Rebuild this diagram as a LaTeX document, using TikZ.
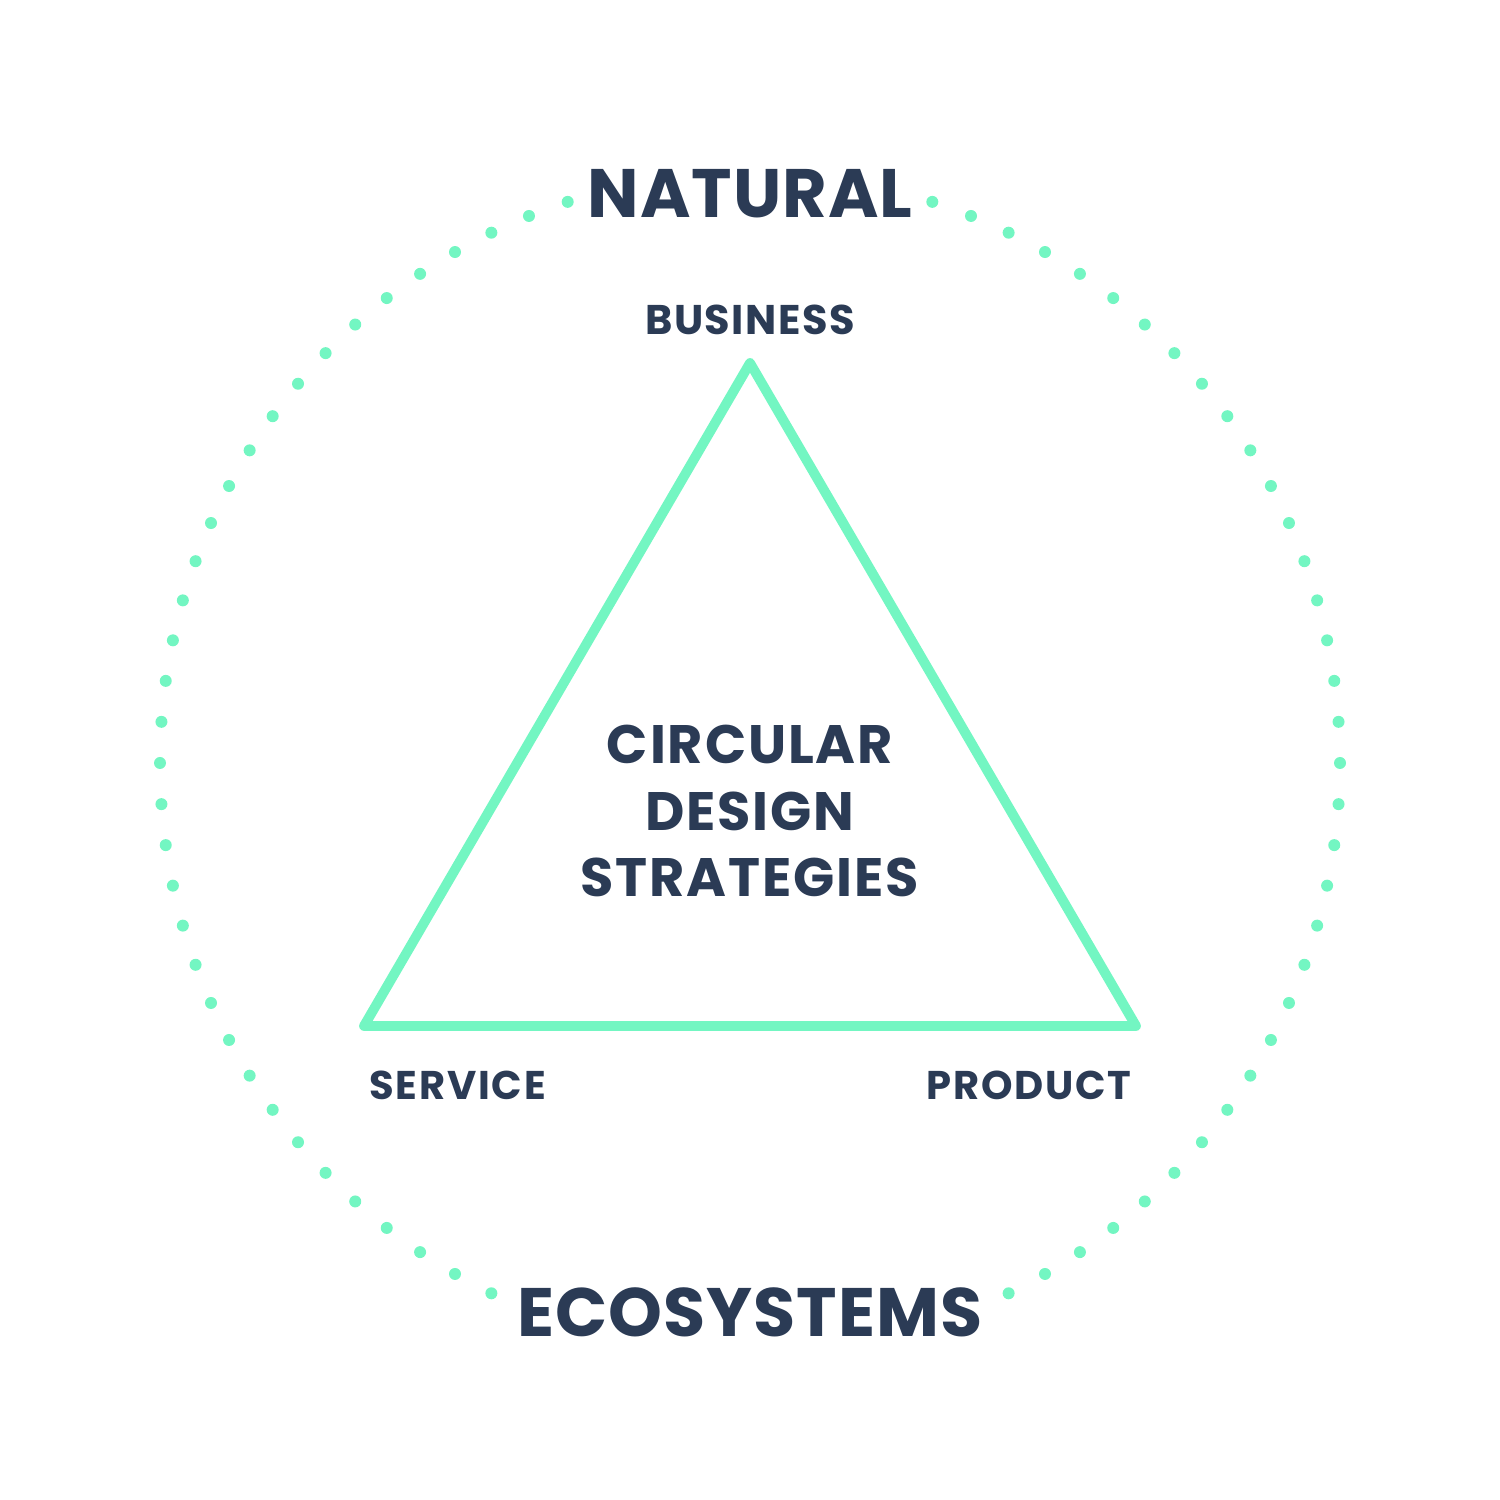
\documentclass[tikz,border=0pt]{standalone}
\usepackage{fontspec}
\setmainfont{Poppins}[BoldFont={* Bold}]
\definecolor{mint}{HTML}{73F6C2}
\definecolor{navy}{HTML}{2B3B55}
\newcommand{\spaced}[1]{\addfontfeature{LetterSpace=#1}}
\tikzset{
    label/.style={text=navy,font=\bfseries,inner sep=0pt},
    dot/.style={fill=mint,draw=none}
}
\begin{document}
\begin{tikzpicture}
            \useasboundingbox (0,0) rectangle (15,15);
            \coordinate (centre) at (7.5,7.37);
            % dotted ring, open at top and bottom for the titles
            \foreach \a in {-64,-60,...,72,108,112,...,244}
                \fill[dot] (centre) ++(\a:5.9) circle (0.06);
            \coordinate (business) at (7.5,11.37);
            \coordinate (service) at (3.64,4.74);
            \coordinate (product) at (11.36,4.74);
            \draw[mint,line width=2.8pt,line join=round] (business) -- (product) -- (service) -- cycle;
            \node[label,font=\fontsize{19.5}{23}\bfseries\spaced{1.5}] (natural) at (7.5,13.06) {NATURAL};
            \node[label,font=\fontsize{19.5}{23}\bfseries\spaced{1.5}] (ecosystems) at (7.5,1.88) {ECOSYSTEMS};
            \node[label,font=\fontsize{11.8}{14}\bfseries\spaced{3.5}] (businesstext) at (7.5,11.8) {BUSINESS};
            \node[label,font=\fontsize{11.4}{14}\bfseries\spaced{4.5}] (servicetext) at (4.575,4.15) {SERVICE};
            \node[label,font=\fontsize{11.4}{14}\bfseries\spaced{4.5}] (producttext) at (10.29,4.15) {PRODUCT};
            \node[label,font=\fontsize{15.4}{19}\bfseries\spaced{3.5},align=center] (strategies) at (7.5,6.89) {CIRCULAR\\DESIGN\\STRATEGIES};
\end{tikzpicture}
\end{document}
